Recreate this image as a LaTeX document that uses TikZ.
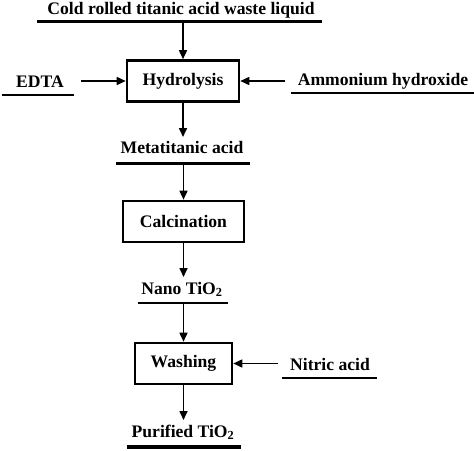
\documentclass[tikz,border=0pt]{standalone}
\usepackage{fontspec}
\setmainfont{Liberation Serif}
\usetikzlibrary{arrows.meta}
\begin{document}
\begin{tikzpicture}[x=1pt,y=-1pt,
  lbl/.style={font=\fontsize{17.6}{20}\selectfont\bfseries, inner sep=0pt, anchor=base},
  procbox/.style={draw, line width=2.6pt, minimum width=#1, minimum height=41pt, inner sep=0pt, font=\fontsize{17.6}{20}\selectfont\bfseries},
  procbox/.default=110pt,
  flow/.style={line width=1.6pt, -{Triangle[length=9pt,width=8pt]}},
  thickul/.style={line width=3pt},
  thinul/.style={line width=2pt}]
\useasboundingbox (0,0) rectangle (474,450);
% texts
\node[lbl] (cold) at (181,14.5) {Cold rolled titanic acid waste liquid};
\node[lbl] (edta) at (40,87) {EDTA};
\node[lbl] (amm) at (383,85) {Ammonium hydroxide};
\node[lbl] (meta) at (182,153) {Metatitanic acid};
\node[lbl] (nano) at (182,294) {Nano TiO\textsubscript{2}};
\node[lbl] (nitric) at (330,370) {Nitric acid};
\node[lbl] (pur) at (183,437) {Purified TiO\textsubscript{2}};
% boxes
\node[procbox=112pt] (hyd) at (183,81) {Hydrolysis};
\node[procbox=121pt] (cal) at (183.5,221.5) {Calcination};
\node[procbox=97pt] (wash) at (183.5,363.5) {Washing};
% underlines
\coordinate (ulcoldL) at (37,21); \coordinate (ulcoldR) at (322,21);
\coordinate (uledL) at (2,95); \coordinate (uledR) at (74,95);
\coordinate (ulamL) at (291,93); \coordinate (ulamR) at (474,93);
\coordinate (ulmeL) at (116,163); \coordinate (ulmeR) at (250,163);
\coordinate (ulnaL) at (138,303); \coordinate (ulnaR) at (228,303);
\coordinate (ulniL) at (282,378); \coordinate (ulniR) at (377,378);
\coordinate (ulpuL) at (127,447); \coordinate (ulpuR) at (241,447);
\draw[thickul] (ulcoldL) -- (ulcoldR);
\draw[thinul] (uledL) -- (uledR);
\draw[thinul] (ulamL) -- (ulamR);
\draw[thickul] (ulmeL) -- (ulmeR);
\draw[thinul] (ulnaL) -- (ulnaR);
\draw[thinul] (ulniL) -- (ulniR);
\draw[line width=3.5pt] (ulpuL) -- (ulpuR);
% arrow start coordinates
\coordinate (a1) at (183,21);
\coordinate (a2) at (81,81);
\coordinate (a3) at (285,81);
\coordinate (a4) at (183.5,163);
\coordinate (a5) at (183.5,303);
\coordinate (a6) at (278,363.5);
\coordinate (e1) at (183,137);
\coordinate (e2) at (183.5,277);
\coordinate (e3) at (183.5,420);
% arrows
\draw[flow] (a1) -- (hyd.north);
\draw[flow] (a2) -- (hyd.west);
\draw[flow] (a3) -- (hyd.east);
\draw[flow] (hyd.south) -- (e1);
\draw[flow] (a4) -- (cal.north);
\draw[flow] (cal.south) -- (e2);
\draw[flow] (a5) -- (wash.north);
\draw[flow] (a6) -- (wash.east);
\draw[flow] (wash.south) -- (e3);
\end{tikzpicture}
\end{document}
